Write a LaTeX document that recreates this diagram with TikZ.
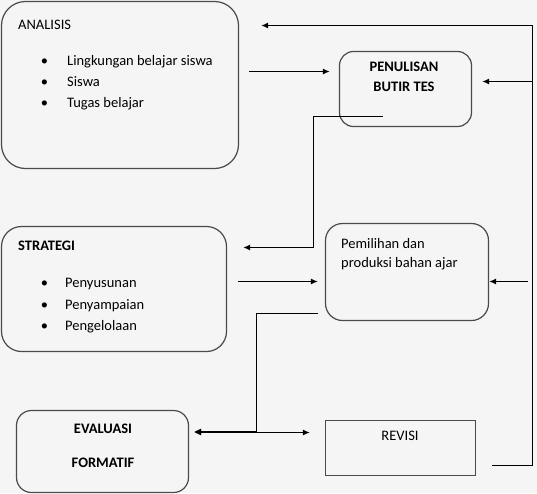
\documentclass[tikz,border=0pt]{standalone}
\usepackage{fontspec}
\setmainfont{Carlito}
\usetikzlibrary{positioning, arrows.meta}
\definecolor{paper}{HTML}{F5F5F5}
\definecolor{boxline}{HTML}{4A4A4A}
\tikzset{
  box/.style={draw=boxline, line width=1.2pt, inner sep=0pt},
  conn/.style={->, line width=1.3pt},
  lbl/.style={font=\fontsize{14.5pt}{17pt}\selectfont, inner sep=0pt, anchor=base west},
}
\begin{document}
\begin{tikzpicture}[x=1pt, y=-1pt, >={Latex[length=7pt,width=6pt]}]
\path[use as bounding box, fill=paper] (0,0) rectangle (537,493);
% boxes
\node[box, rounded corners=24pt, minimum width=237pt, minimum height=167pt] (analisis) at (120,85) {};
\node[box, rounded corners=14pt, minimum width=132pt, minimum height=75pt] (penulisan) at (405.5,89) {};
\node[box, rounded corners=20pt, minimum width=225pt, minimum height=125pt] (strategi) at (114,289) {};
\node[box, rounded corners=17pt, minimum width=163pt, minimum height=97pt] (pemilihan) at (407,272) {};
\node[box, rounded corners=15pt, minimum width=172pt, minimum height=82pt] (evaluasi) at (102.5,451.5) {};
\node[box, minimum width=150pt, minimum height=55pt] (revisi) at (400.5,448) {};

% texts
\node[lbl] (analisisT) at (18,29) {ANALISIS};
\foreach \t/\y [count=\i] in {Lingkungan belajar siswa/65, Siswa/86, Tugas belajar/107}{
  \node[lbl, anchor=base] (anDot\i) at (44.5,\y) {\textbullet};
  \node[lbl] (anItem\i) at (67,\y) {\t};
}
\node[lbl, anchor=base] (penulisanT) at (404,71.7) {\bfseries PENULISAN};
\node[lbl, anchor=base] (butirT) at (404,91.7) {\bfseries BUTIR TES};
\node[lbl] (strategiT) at (18,250.7) {\bfseries STRATEGI};
\foreach \t/\y [count=\i] in {Penyusunan/287, Penyampaian/309, Pengelolaan/330}{
  \node[lbl, anchor=base] (stDot\i) at (44.5,\y) {\textbullet};
  \node[lbl] (stItem\i) at (65,\y) {\t};
}
\node[lbl] (pemilihanT) at (341,248) {Pemilihan dan};
\node[lbl] (produksiT) at (341,267) {produksi bahan ajar};
\node[lbl, anchor=base] (evaluasiT) at (103,433) {\bfseries EVALUASI};
\node[lbl, anchor=base] (formatifT) at (103,467.7) {\bfseries FORMATIF};
\node[lbl, anchor=base] (revisiT) at (400,440) {REVISI};

% connectors
\coordinate (rail) at (532.5,0);
\coordinate (pnout) at (383,116.5);
\draw[conn, shorten <=16pt, shorten >=22pt] (revisi.east |- 0,465.5) -| (rail |- 0,25.5) -- (analisis.east |- 0,25.5);
\draw[conn, shorten >=10pt] (rail |- 0,81.5) -- (penulisan.east |- 0,81.5);
\draw[conn, shorten <=5pt] (rail |- 0,281.5) -- (pemilihan.east |- 0,281.5);
\draw[conn, shorten <=10pt, shorten >=9pt] (analisis.east |- 0,71.5) -- (penulisan.west |- 0,71.5);
\draw[conn, shorten >=16pt] (pnout) -| (313.5,247.5) -- (strategi.east |- 0,247.5);
\draw[conn, shorten <=11pt, shorten >=7pt] (strategi.east |- 0,281.5) -- (pemilihan.west |- 0,281.5);
\draw[conn, shorten <=7pt, shorten >=5pt] (pemilihan.west |- 0,313.5) -| (256.5,431.5) -- (evaluasi.east |- 0,431.5);
\draw[conn, <->, shorten <=5pt, shorten >=15pt] (evaluasi.east |- 0,432.5) -- (revisi.west |- 0,432.5);
\end{tikzpicture}
\end{document}
